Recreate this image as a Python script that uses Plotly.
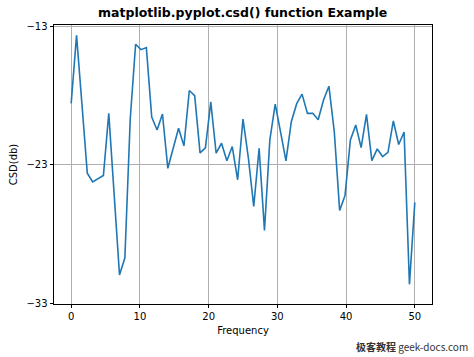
import numpy as np
import plotly.graph_objects as go

freqs = [i * 50 / 64 for i in range(65)]
csd_db = [
    -18.56, -13.65, -18.6, -23.6, -24.24, -24.0, -23.77, -19.28, -25.09, -30.96,
    -29.71, -19.69, -14.29, -14.68, -14.53, -19.55, -20.48, -19.33, -23.25, -21.78,
    -20.36, -21.63, -17.63, -18.0, -22.14, -21.78, -18.45, -22.16, -21.44, -22.71,
    -21.68, -24.08, -19.69, -22.5, -26.0, -21.8, -27.73, -21.2, -18.61, -20.63,
    -22.71, -19.88, -18.58, -17.89, -19.28, -19.28, -19.74, -18.32, -17.32, -20.6,
    -26.29, -25.21, -21.2, -20.12, -21.76, -19.35, -22.7, -21.85, -22.4, -22.1,
    -19.83, -21.53, -20.63, -31.63, -25.71,
]
x_ticks = [0, 10, 20, 30, 40, 50]
y_ticks = [-33, -23, -13]
y_tick_labels = ["\u221233", "\u221223", "\u221213"]

fig = go.Figure()
fig.add_trace(go.Scatter(x=freqs, y=csd_db, mode="lines",
                         line=dict(color="#1f77b4", width=1.6), hoverinfo="skip"))

axis_common = dict(showline=True, mirror=True, linecolor="black", linewidth=0.9,
                   ticks="outside", ticklen=3.5, tickwidth=0.9, tickcolor="black",
                   showgrid=True, gridcolor="#b0b0b0", gridwidth=0.8, zeroline=False,
                   automargin=False,
                   tickfont=dict(family="DejaVu Sans", size=10, color="black"))

fig.update_xaxes(range=[-2.5, 52.5], tickvals=x_ticks, **axis_common,
                 title=dict(text="Frequency", font=dict(family="DejaVu Sans", size=10, color="black"), standoff=5))
fig.update_yaxes(range=[-33.05, -12.9], tickvals=y_ticks, ticktext=y_tick_labels, **axis_common,
                 title=dict(text="CSD(db)", font=dict(family="DejaVu Sans", size=10, color="black"), standoff=6))

fig.update_layout(
    width=474, height=357,
    margin=dict(l=54, r=42, t=25, b=53),
    paper_bgcolor="white", plot_bgcolor="white",
    showlegend=False,
    title=dict(text="<b>matplotlib.pyplot.csd() function Example</b>", x=0.512, xanchor="center",
               y=0.965, yanchor="middle", font=dict(family="DejaVu Sans", size=12.5, color="black")),
    annotations=[dict(text="<b>极客教程</b> geek-docs.com", xref="paper", yref="paper",
                      x=1.1, y=-0.152, xanchor="right", yanchor="middle", showarrow=False,
                      font=dict(family="Noto Sans CJK SC", size=10, color="#333333"))],
)

fig.write_html("out.html", config={"displayModeBar": False},
               post_script="document.body.style.margin='0';document.body.style.overflow='hidden';")
